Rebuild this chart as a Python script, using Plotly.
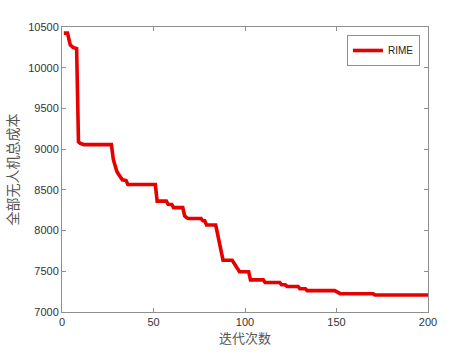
import plotly.graph_objects as go

# Convergence curve (iteration, best total cost)
iterations = [1, 3, 4.5, 6, 8, 9, 10, 12, 27, 28, 29, 30, 31, 32, 33, 35, 36, 51, 52, 57, 58, 60, 61, 66,
              67, 68, 69, 76, 77, 78, 79, 84, 85, 86, 88, 93, 94, 96, 97, 102, 103, 110, 111, 119, 120,
              122, 123, 129, 130, 133, 134, 149, 152, 170, 171, 200]
costs = [10425, 10425, 10280, 10250, 10235, 9090, 9070, 9056, 9056, 8880, 8800, 8725, 8690, 8650, 8624,
         8615, 8565, 8565, 8362, 8362, 8322, 8320, 8282, 8282,
         8181, 8160, 8148, 8148, 8120, 8120, 8068, 8068, 7960, 7900, 7636, 7636, 7596, 7530, 7495, 7495,
         7394, 7394, 7362, 7362, 7334, 7334, 7314, 7314, 7286, 7286, 7262, 7262, 7225, 7225, 7209, 7209]

x_ticks = [0, 50, 100, 150, 200]
y_ticks = [7000, 7500, 8000, 8500, 9000, 9500, 10000, 10500]
y_tick_labels = ["7000", "7500", "8000", "8500", "9000", "9500", "10000", "10500"]

series_name = "RIME"
x_title = "迭代次数"
y_title = "全部无人机总成本"

fig = go.Figure()
fig.add_trace(go.Scatter(x=iterations, y=costs, mode="lines", name=series_name,
                         line=dict(color="#e60000", width=3.6)))

axis_color = "#8f8f8f"
common = dict(showline=True, linecolor=axis_color, linewidth=1, mirror="allticks",
              ticks="inside", ticklen=4, tickcolor=axis_color, showgrid=False, zeroline=False,
              tickfont=dict(family="Liberation Sans, Arial", size=11, color="#333333"))

fig.update_xaxes(range=[0, 200], tickvals=x_ticks,
                 title=dict(text=x_title, font=dict(family="Noto Sans CJK SC", size=13, color="#555555"),
                            standoff=6),
                 **common)
fig.update_yaxes(range=[7000, 10500], tickvals=y_ticks, ticktext=y_tick_labels,
                 title=dict(text=y_title, font=dict(family="Noto Sans CJK SC", size=14, color="#555555"),
                            standoff=6),
                 **common)

fig.update_layout(
    width=474, height=355,
    margin=dict(l=62, r=46, t=27, b=39),
    paper_bgcolor="white", plot_bgcolor="white",
    showlegend=True,
    legend=dict(x=0.978, y=0.972, xanchor="right", yanchor="top",
                bordercolor=axis_color, borderwidth=1, bgcolor="white",
                font=dict(family="Liberation Sans, Arial", size=10, color="#222222"),
                itemwidth=30, tracegroupgap=0),
)

fig.write_html("out.html")
